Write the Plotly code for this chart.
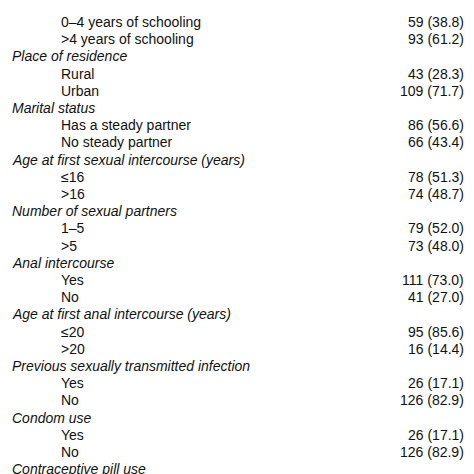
import plotly.graph_objects as go

labels = ["0–4 years of schooling", ">4 years of schooling", "Place of residence", "Rural", "Urban",
          "Marital status", "Has a steady partner", "No steady partner",
          "Age at first sexual intercourse (years)", "≤16", ">16",
          "Number of sexual partners", "1–5", ">5",
          "Anal intercourse", "Yes", "No",
          "Age at first anal intercourse (years)", "≤20", ">20",
          "Previous sexually transmitted infection", "Yes", "No",
          "Condom use", "Yes", "No",
          "Contraceptive pill use", "Yes"]
values = ["59 (38.8)", "93 (61.2)", "", "43 (28.3)", "109 (71.7)",
          "", "86 (56.6)", "66 (43.4)",
          "", "78 (51.3)", "74 (48.7)",
          "", "79 (52.0)", "73 (48.0)",
          "", "111 (73.0)", "41 (27.0)",
          "", "95 (85.6)", "16 (14.4)",
          "", "26 (17.1)", "126 (82.9)",
          "", "26 (17.1)", "126 (82.9)",
          "", "51 (33.6)"]
is_header = [v == "" for v in values]

fig = go.Figure()
ann = []
y0, dy = 14, 17.2
for i, (lab, val, h) in enumerate(zip(labels, values, is_header)):
    y = y0 + i * dy
    ann.append(dict(x=2 if h else 51, y=y, xref="x", yref="y", text=f"<i>{lab}</i>" if h else lab,
                    showarrow=False, xanchor="left", yanchor="middle",
                    font=dict(family="Liberation Sans", size=14, color="#111")))
    if val:
        ann.append(dict(x=458, y=y, xref="x", yref="y", text=val, showarrow=False,
                        xanchor="right", yanchor="middle",
                        font=dict(family="Liberation Sans", size=14, color="#111")))
fig.update_layout(width=474, height=474, margin=dict(l=0, r=0, t=0, b=0),
                  plot_bgcolor="white", paper_bgcolor="white", annotations=ann,
                  xaxis=dict(range=[0, 474], visible=False),
                  yaxis=dict(range=[474, 0], visible=False), showlegend=False)
fig.write_html("out.html")
